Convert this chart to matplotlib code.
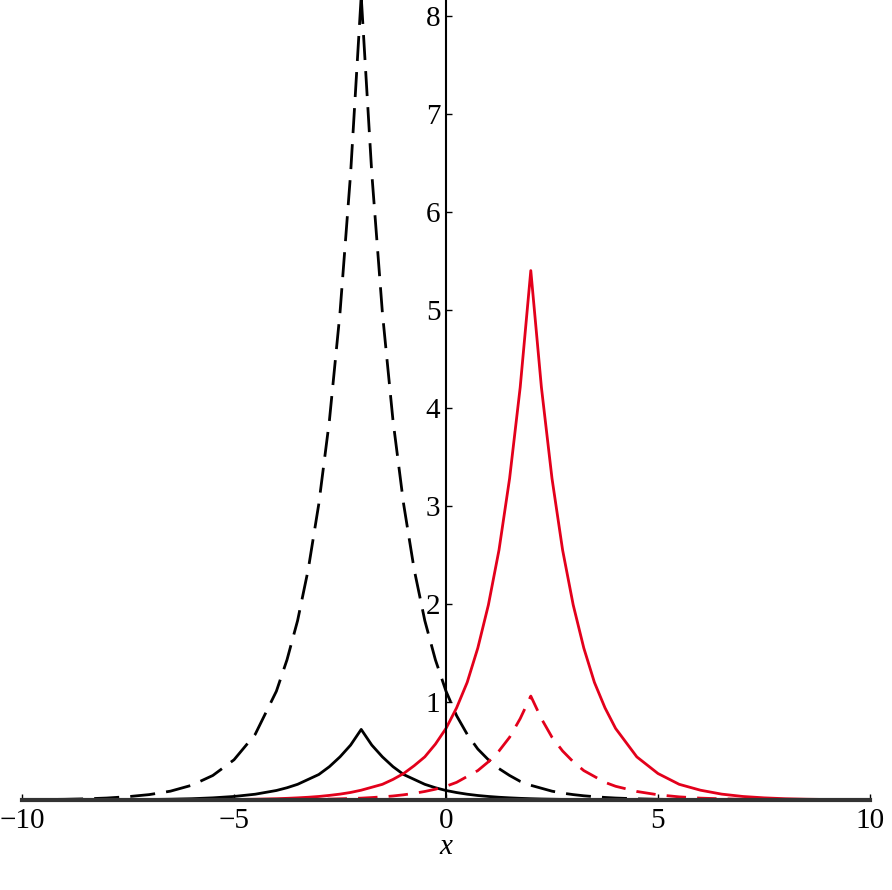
import matplotlib
matplotlib.use("Agg")
import matplotlib.pyplot as plt

x = [-10, -9.5, -9, -8.5, -8, -7.5, -7, -6.5, -6, -5.5, -5, -4.5,
     -4, -3.75, -3.5, -3.25, -3, -2.75, -2.5, -2.25, -2, -1.75, -1.5, -1.25, -1, -0.75, -0.5, -0.25,
     0, 0.25, 0.5, 0.75, 1, 1.25, 1.5, 1.75, 2, 2.25, 2.5, 2.75, 3, 3.25, 3.5, 3.75, 4,
     4.5, 5, 5.5, 6, 6.5, 7, 7.5, 8, 8.5, 9, 9.5, 10]

black_dashed = [.003, .005, .007, .012, .02, .034, .055, .09, .15, .25, .41, .67,
                1.11, 1.43, 1.83, 2.35, 3.02, 3.87, 4.97, 6.39, 8.2, 6.39, 4.97, 3.87, 3.02, 2.35, 1.83, 1.43,
                1.11, .86, .67, .52, .41, .32, .25, .19, .15, .12, .09, .07, .055, .043, .034, .026, .02,
                .012, .007, .005, .003, .002, .001, .001, 0, 0, 0, 0, 0]
black_solid = [0, .001, .001, .001, .002, .003, .005, .008, .013, .022, .036, .059,
               .097, .125, .16, .21, .26, .34, .44, .56, .72, .56, .44, .34, .26, .21, .16, .125,
               .097, .076, .059, .046, .036, .028, .022, .017, .013, .010, .008, .006, .005, .004, .003, .002, .002,
               .001, .001, 0, 0, 0, 0, 0, 0, 0, 0, 0, 0]
red_solid = [0, 0, 0, 0, 0, 0, .001, .001, .002, .003, .005, .008,
             .013, .017, .022, .028, .036, .047, .06, .077, .10, .13, .16, .21, .27, .35, .44, .57,
             .73, .94, 1.20, 1.55, 1.99, 2.55, 3.28, 4.21, 5.4, 4.21, 3.28, 2.55, 1.99, 1.55, 1.20, .94, .73,
             .44, .27, .16, .10, .06, .036, .022, .013, .008, .005, .003, .002]
red_dashed = [0, 0, 0, 0, 0, 0, 0, .001, .001, .001, .002, .002,
              .003, .003, .004, .006, .007, .009, .012, .015, .019, .025, .032, .041, .053, .068, .087, .11,
              .14, .18, .24, .30, .39, .50, .64, .83, 1.06, .83, .64, .50, .39, .30, .24, .18, .14,
              .087, .053, .032, .019, .012, .007, .004, .003, .002, .001, .001, 0]

xticks = [-10, -5, 0, 5, 10]
xticklabels = ["\u221210", "\u22125", "0", "5", "10"]
yticks = [1, 2, 3, 4, 5, 6, 7, 8]

plt.rcParams['font.family'] = ['Liberation Serif', 'DejaVu Serif']
fig = plt.figure(figsize=(8.92, 8.90), dpi=100)
ax = fig.add_axes([22/892, 90/890, 848/892, 800/890])
ax.set_xlim(-10, 10)
ax.set_ylim(0, 8.16)

red = '#e3001b'
ax.plot(x, black_dashed, color='black', lw=2, dashes=(9, 4))
ax.plot(x, black_solid, color='black', lw=2)
ax.plot(x, red_solid, color=red, lw=2)
ax.plot(x, red_dashed, color=red, lw=2, dashes=(7, 4))

for s in ['top', 'right']:
    ax.spines[s].set_visible(False)
ax.spines['left'].set_position(('data', 0))
ax.spines['bottom'].set_position(('data', 0))
ax.spines['left'].set_linewidth(1.5)
ax.spines['bottom'].set_linewidth(3)
ax.spines['bottom'].set_color('#333333')

ax.set_xticks(xticks)
ax.set_xticklabels(xticklabels)
ax.set_yticks(yticks)
ax.tick_params(axis='both', labelsize=21, length=4, width=1, direction='in')
ax.tick_params(axis='y', pad=4)
ax.tick_params(axis='x', pad=6)
ax.set_xlabel('x', fontsize=21, style='italic', labelpad=0)
for lab in ax.get_xticklabels():
    lab.set_clip_on(False)

fig.savefig('out.png', dpi=100)
